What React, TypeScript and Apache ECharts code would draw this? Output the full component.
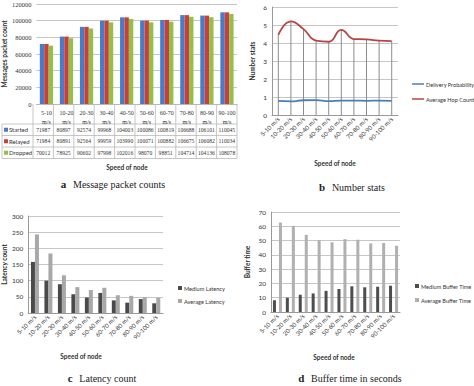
import React, { useEffect, useRef } from "react";
import * as echarts from "echarts";

const speedCategories = ["5-10 m/s", "10-20 m/s", "20-30 m/s", "30-40 m/s", "40-50 m/s", "50-60 m/s", "60-70 m/s", "70-80 m/s", "80-90 m/s", "90-100 m/s"];
const started = [71987, 80897, 92574, 99968, 104003, 100086, 100819, 106688, 106101, 110045];
const relayed = [71984, 80891, 92564, 99959, 103990, 100071, 100882, 106675, 106082, 110034];
const dropped = [70012, 78925, 90602, 97998, 102016, 98070, 98851, 104714, 104136, 108078];
const deliveryProbability = [0.78, 0.76, 0.82, 0.83, 0.77, 0.8, 0.8, 0.79, 0.8, 0.79];
const averageHopCount = [4.45, 5.2, 4.77, 4.13, 4.07, 4.73, 4.22, 4.2, 4.13, 4.1];
const mediumLatency = [158, 100, 89, 58, 48, 62, 39, 32, 43, 30];
const averageLatency = [243, 184, 117, 80, 71, 78, 55, 53, 49, 47];
const mediumBufferTime = [8.2, 10, 12.1, 13, 14.8, 16.1, 18, 17.3, 17.7, 18.4];
const averageBufferTime = [62.6, 60.3, 54, 50.2, 48.8, 51, 50.6, 48, 48.3, 46.4];
const tableRows = [
  { name: "Started", values: started, color: "#4a7bc8" },
  { name: "Relayed", values: relayed, color: "#c8403b" },
  { name: "Dropped", values: dropped, color: "#96bf4a" },
];

const SANS = "Lato, 'Liberation Sans', sans-serif";
const SERIF = "'Liberation Serif', 'DejaVu Serif', serif";
const GRID_COLOR = "#b8b8b8";

export default function App() {
  const ref = useRef<HTMLDivElement>(null);
  useEffect(() => {
    document.body.style.margin = "0";
    const chart = echarts.init(ref.current!, null, { renderer: "svg" });

    const tLeft = 33, tWidth = 204, colW = tWidth / 10, legendLeft = 2;
    const rowYs = [104, 124, 135.5, 147, 158.5];
    const graphics: any[] = [];
    for (let i = 0; i <= 10; i++) {
      graphics.push({ type: "line", shape: { x1: tLeft + i * colW, y1: 104, x2: tLeft + i * colW, y2: 158.5 }, style: { stroke: GRID_COLOR, lineWidth: 0.8 } });
    }
    graphics.push({ type: "line", shape: { x1: legendLeft, y1: 124, x2: legendLeft, y2: 158.5 }, style: { stroke: GRID_COLOR, lineWidth: 0.8 } });
    for (let r = 1; r < rowYs.length; r++) {
      graphics.push({ type: "line", shape: { x1: legendLeft, y1: rowYs[r], x2: tLeft + tWidth, y2: rowYs[r] }, style: { stroke: GRID_COLOR, lineWidth: 0.8 } });
    }
    tableRows.forEach((row, r) => {
      const cy = (rowYs[r + 1] + rowYs[r + 2]) / 2;
      graphics.push({ type: "rect", shape: { x: 4, y: cy - 2, width: 4, height: 4 }, style: { fill: row.color } });
      graphics.push({ type: "text", x: 9, y: cy, style: { text: row.name, font: `6px ${SANS}`, fill: "#333", verticalAlign: "middle" } });
      row.values.forEach((v, i) => {
        graphics.push({ type: "text", x: tLeft + (i + 0.5) * colW, y: cy, style: { text: String(v), font: `5.6px ${SERIF}`, fill: "#333", align: "center", verticalAlign: "middle" } });
      });
    });
    const speedLabel = (x: number, y: number) => ({ type: "text", x, y, style: { text: "Speed of node", font: `bold 6.5px ${SANS}`, fill: "#333", align: "center", verticalAlign: "middle" } });
    graphics.push(speedLabel(127, 167), speedLabel(335, 163), speedLabel(81, 356), speedLabel(334, 357));
    const caption = (x: number, y: number, letter: string, text: string) => ({
      type: "text", x, y,
      style: {
        text: `{l|${letter}}  {t|${text}}`, align: "center", verticalAlign: "middle",
        rich: { l: { font: `bold 11px ${SERIF}`, fill: "#222" }, t: { font: `10px ${SERIF}`, fill: "#222" } },
      },
    });
    graphics.push(caption(113, 184, "a", "Message packet counts"), caption(352, 187, "b", "Number stats"), caption(102, 378, "c", "Latency count"), caption(350, 378, "d", "Buffer time in seconds"));

    const yCommon = (name: string, gap: number, font: string) => ({
      type: "value",
      name,
      nameLocation: "middle",
      nameGap: gap,
      nameRotate: 90,
      nameTextStyle: { fontFamily: SANS, fontWeight: "bold", fontSize: 6.5, color: "#333" },
      axisLine: { show: true, lineStyle: { color: "#999" } },
      axisTick: { show: false },
      axisLabel: { fontFamily: font, fontSize: 6.5, color: "#333", margin: 5, formatter: (v: number) => String(v) },
      splitLine: { lineStyle: { color: GRID_COLOR, width: 0.8 } },
    });
    const xRot = (gi: number) => ({
      type: "category",
      gridIndex: gi,
      data: speedCategories,
      axisLine: { lineStyle: { color: "#999" } },
      axisTick: { show: false },
      axisLabel: { rotate: 45, fontFamily: SANS, fontSize: 6, color: "#333", margin: 3, interval: 0 },
    });
    const legendText = { fontSize: 5.6, color: "#333", fontFamily: SANS, padding: [0, 0, 0, -3] };

    chart.setOption({
      animation: false,
      backgroundColor: "#fff",
      textStyle: { fontFamily: SANS },
      grid: [
        { left: 33, top: 4, width: 204, height: 100 },
        { left: 272, top: 7, width: 126, height: 108 },
        { left: 27, top: 216, width: 136, height: 97 },
        { left: 271, top: 212, width: 129, height: 100 },
      ],
      xAxis: [
        {
          type: "category", gridIndex: 0, data: speedCategories,
          axisLine: { lineStyle: { color: GRID_COLOR } }, axisTick: { show: false },
          axisLabel: { interval: 0, fontFamily: SERIF, fontSize: 6, color: "#333", margin: 4, lineHeight: 9, formatter: (v: string) => v.replace(" ", "\n") },
        },
        xRot(1),
        xRot(2),
        xRot(3),
      ],
      yAxis: [
        { ...yCommon("Messages packet count", 25, SERIF), gridIndex: 0, min: 0, max: 120000, interval: 20000, axisLine: { show: false } },
        { ...yCommon("Number stats", 16, SANS), gridIndex: 1, min: 0, max: 6, interval: 1 },
        { ...yCommon("Latency count", 15, SANS), gridIndex: 2, min: 0, max: 300, interval: 50 },
        { ...yCommon("Buffer time", 20, SANS), gridIndex: 3, min: 0, max: 70, interval: 10 },
      ],
      legend: [
        {
          data: [{ name: "Delivery Probability", icon: "rect" }, { name: "Average Hop Count", icon: "rect" }],
          orient: "vertical", left: 407, top: 76, itemWidth: 12, itemHeight: 1.5, itemGap: 9,
          textStyle: legendText,
        },
        {
          data: ["Medium Latency", "Average Latency"], icon: "rect",
          orient: "vertical", left: 173, top: 280, itemWidth: 4, itemHeight: 4, itemGap: 7,
          textStyle: legendText,
        },
        {
          data: ["Medium Buffer Time", "Average Buffer Time"], icon: "rect",
          orient: "vertical", left: 410, top: 278, itemWidth: 4, itemHeight: 4, itemGap: 8,
          textStyle: legendText,
        },
      ],
      series: [
        { name: "Started", type: "bar", xAxisIndex: 0, yAxisIndex: 0, data: started, itemStyle: { color: "#4a7bc8" }, barGap: "0%", barCategoryGap: "34%" },
        { name: "Relayed", type: "bar", xAxisIndex: 0, yAxisIndex: 0, data: relayed, itemStyle: { color: "#c8403b" } },
        { name: "Dropped", type: "bar", xAxisIndex: 0, yAxisIndex: 0, data: dropped, itemStyle: { color: "#96bf4a" } },
        { name: "drop lines", type: "bar", xAxisIndex: 1, yAxisIndex: 1, data: averageHopCount, barWidth: 1, itemStyle: { color: "#8c8c8c" }, z: 1 },
        { name: "Delivery Probability", type: "line", xAxisIndex: 1, yAxisIndex: 1, data: deliveryProbability, smooth: true, showSymbol: false, lineStyle: { color: "#4a7ebb", width: 1.8 }, itemStyle: { color: "#4a7ebb" }, z: 3 },
        { name: "Average Hop Count", type: "line", xAxisIndex: 1, yAxisIndex: 1, data: averageHopCount, smooth: true, showSymbol: false, lineStyle: { color: "#b94542", width: 1.8 }, itemStyle: { color: "#b94542" }, z: 3 },
        { name: "Medium Latency", type: "bar", xAxisIndex: 2, yAxisIndex: 2, data: mediumLatency, barWidth: 4, barGap: "0%", itemStyle: { color: "#4a4a4a" } },
        { name: "Average Latency", type: "bar", xAxisIndex: 2, yAxisIndex: 2, data: averageLatency, barWidth: 4, itemStyle: { color: "#a8a8a8" } },
        { name: "Medium Buffer Time", type: "bar", xAxisIndex: 3, yAxisIndex: 3, data: mediumBufferTime, barWidth: 3, barGap: "100%", itemStyle: { color: "#4d4d4d" } },
        { name: "Average Buffer Time", type: "bar", xAxisIndex: 3, yAxisIndex: 3, data: averageBufferTime, barWidth: 3, itemStyle: { color: "#b0b0b0" } },
      ],
      graphic: graphics,
    });
    return () => chart.dispose();
  }, []);
  return <div ref={ref} style={{ width: 474, height: 386, position: "absolute", left: 0, top: 0 }} />;
}
